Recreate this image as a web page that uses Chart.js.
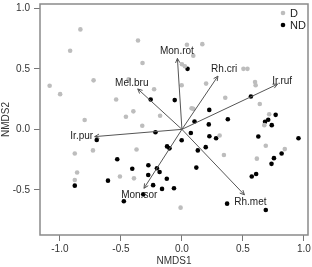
<!DOCTYPE html>
<html><head><meta charset="utf-8">
<script src="https://cdn.jsdelivr.net/npm/chart.js@4.4.0/dist/chart.umd.min.js"></script>
<style>html,body{margin:0;padding:0;background:#fff;overflow:hidden}</style>
</head><body>
<canvas id="c" width="312" height="267"></canvas>
<script>
// ---- data ----
const seriesNames = ['D', 'ND'];
const dX = [-0.832,-0.916,-0.724,-1.084,-0.998,-0.797,-0.360,-0.323,-0.437,-0.228,-0.539,-0.398,-0.459,-0.179,
  0.041,0.167,0.000,0.024,0.093,0.504,0.537,-0.002,0.198,0.355,0.079,0.093,0.599,0.604,0.638,0.715,0.675,
  -0.325,-0.372,-0.878,-0.729,-0.859,-0.878,-0.508,-0.393,-0.011,0.309,0.344,0.687,0.843,0.614];
const dY = [0.826,0.650,0.405,0.361,0.291,0.077,0.734,0.549,0.414,0.332,0.247,0.149,0.104,0.113,
  0.699,0.704,0.538,0.522,0.609,0.500,0.500,0.365,0.378,0.261,0.174,0.169,0.392,0.365,0.210,0.125,0.035,
  0.030,-0.166,-0.200,-0.174,-0.356,-0.418,-0.389,-0.405,-0.647,-0.051,-0.212,-0.135,-0.163,-0.242];
const ndX = [-0.256,-0.059,0.046,0.224,0.103,0.376,0.220,0.565,0.768,0.707,0.681,0.736,0.626,0.955,0.817,
  0.754,0.734,0.608,0.572,0.687,0.370,0.073,-0.002,0.225,0.280,0.195,0.130,0.118,-0.122,-0.102,-0.205,
  -0.183,-0.124,-0.163,-0.065,-0.217,-0.530,-0.407,-0.275,-0.276,-0.236,-0.317,-0.476,-0.606,-0.878,-0.698];
const ndY = [0.247,0.242,0.500,0.161,0.065,0.083,0.041,0.272,0.120,0.079,0.063,0.035,-0.059,-0.073,-0.200,
  -0.238,-0.285,-0.369,-0.389,-0.667,-0.614,-0.030,-0.090,-0.057,-0.073,-0.147,-0.174,-0.316,-0.141,-0.157,-0.321,
  -0.352,-0.408,-0.492,-0.487,-0.024,-0.247,-0.325,-0.296,-0.377,-0.461,-0.537,-0.594,-0.424,-0.465,-0.088];
const speciesNames = ['Mon.rot','Rh.cri','Ir.ruf','Mel.bru','Ir.pur','Mon.sor','Rh.met'];
const arrowX = [-0.037, 0.295, 0.783, -0.362, -0.715, -0.311, 0.512];
const arrowY = [0.587, 0.440, 0.373, 0.334, -0.060, -0.487, -0.541];
const labelX = [-0.041, 0.346, 0.821, -0.411, -0.821, -0.350, 0.561];
const labelY = [0.644, 0.500, 0.400, 0.383, -0.061, -0.547, -0.600];
const xTicks = [-1.0, -0.5, 0.0, 0.5, 1.0];
const yTicks = [-0.5, 0.0, 0.5, 1.0];
const xTitle = 'NMDS1';
const yTitle = 'NMDS2';

// ---- styles ----
const FONT = "'Liberation Sans', Arial, sans-serif";
const colors = ['#bdbdbd', '#000000'];

const toPts = (xs, ys) => xs.map((x, i) => ({x: x, y: ys[i]}));

const overlay = {
  id: 'overlay',
  afterDatasetsDraw(chart) {
    const {ctx, chartArea: a, scales: {x, y}} = chart;
    ctx.save();
    // box
    ctx.strokeStyle = '#8a8a8a';
    ctx.lineWidth = 1.5;
    ctx.strokeRect(a.left, a.top, a.right - a.left, a.bottom - a.top);
    // arrows
    const ox = x.getPixelForValue(0), oy = y.getPixelForValue(0);
    ctx.strokeStyle = '#555';
    ctx.lineWidth = 1;
    speciesNames.forEach((n, i) => {
      const tx = x.getPixelForValue(arrowX[i]), ty = y.getPixelForValue(arrowY[i]);
      ctx.beginPath(); ctx.moveTo(ox, oy); ctx.lineTo(tx, ty); ctx.stroke();
      const ang = Math.atan2(ty - oy, tx - ox), L = 5, w = Math.PI / 7;
      ctx.beginPath();
      ctx.moveTo(tx - L * Math.cos(ang - w), ty - L * Math.sin(ang - w));
      ctx.lineTo(tx, ty);
      ctx.lineTo(tx - L * Math.cos(ang + w), ty - L * Math.sin(ang + w));
      ctx.stroke();
    });
    // labels
    ctx.fillStyle = '#222';
    ctx.font = '10px ' + FONT;
    ctx.textAlign = 'center';
    ctx.textBaseline = 'middle';
    speciesNames.forEach((n, i) => {
      ctx.fillText(n, x.getPixelForValue(labelX[i]), y.getPixelForValue(labelY[i]));
    });
    // legend
    ctx.font = '11px ' + FONT;
    ctx.textAlign = 'left';
    chart.data.datasets.forEach((ds, i) => {
      const ly = 13 + i * 12;
      ctx.fillStyle = ds.backgroundColor;
      ctx.beginPath(); ctx.arc(283, ly, 2.3, 0, Math.PI * 2); ctx.fill();
      ctx.fillStyle = '#222';
      ctx.fillText(ds.label, 290, ly + 0.5);
    });
    ctx.restore();
  }
};

new Chart(document.getElementById('c'), {
  type: 'scatter',
  data: {
    datasets: [
      {label: seriesNames[0], data: toPts(dX, dY), backgroundColor: colors[0], borderWidth: 0, pointRadius: 2.3},
      {label: seriesNames[1], data: toPts(ndX, ndY), backgroundColor: colors[1], borderWidth: 0, pointRadius: 2.3}
    ]
  },
  options: {
    responsive: false,
    animation: false,
    layout: {padding: {top: 1, right: 2, left: 0, bottom: 0}},
    plugins: {legend: {display: false}, tooltip: {enabled: false}},
    scales: {
      x: {
        type: 'linear', min: -1.163, max: 1.033,
        afterBuildTicks: s => { s.ticks = xTicks.map(v => ({value: v})); },
        afterFit: s => { s.height = 32; s.paddingLeft = 0; s.paddingRight = 0; },
        grid: {drawOnChartArea: false, drawTicks: true, tickLength: 6, color: '#777'},
        border: {display: false},
        ticks: {font: {size: 10, family: FONT}, color: '#333', padding: 2, maxRotation: 0,
                callback: v => v.toFixed(1)},
        title: {display: true, text: xTitle, font: {size: 10, family: FONT}, color: '#333', padding: {top: 0, bottom: 0}}
      },
      y: {
        type: 'linear', min: -0.873, max: 1.036,
        afterBuildTicks: s => { s.ticks = yTicks.map(v => ({value: v})); },
        afterFit: s => { s.width = 40; s.paddingTop = 0; s.paddingBottom = 0; },
        grid: {drawOnChartArea: false, drawTicks: true, tickLength: 6, color: '#777'},
        border: {display: false},
        ticks: {font: {size: 10, family: FONT}, color: '#333', padding: 4,
                callback: v => v.toFixed(1)},
        title: {display: true, text: yTitle, font: {size: 10, family: FONT}, color: '#333', padding: {top: 0, bottom: 0}}
      }
    }
  },
  plugins: [overlay]
});
</script>
</body></html>
